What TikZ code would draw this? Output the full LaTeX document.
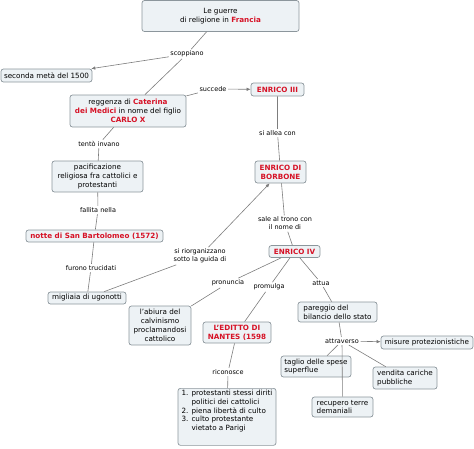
\documentclass[tikz,border=0pt]{standalone}
\usepackage{fontspec}
\setmainfont{DejaVu Sans}
\usetikzlibrary{arrows.meta}
\definecolor{boxfill}{RGB}{237,242,245}
\definecolor{boxline}{RGB}{140,150,156}
\definecolor{linkgray}{RGB}{125,125,125}
\definecolor{mapred}{RGB}{214,18,38}
\newcommand{\rosso}[1]{\textcolor{mapred}{\textbf{#1}}}
\tikzset{
  concept/.style={draw=boxline, fill=boxfill, rounded corners=2.5pt, line width=0.7pt,
    inner sep=1pt, font=\fontsize{7.2}{8.8}\selectfont, align=center},
  linkword/.style={inner sep=1.5pt, font=\fontsize{6.5}{8}\selectfont, align=center},
  conn/.style={draw=linkgray, line width=0.6pt},
  toarrow/.style={conn, -{Latex[length=4pt,width=3.5pt]}}
}
\begin{document}
\begin{tikzpicture}[x=1pt,y=-1pt]
    \useasboundingbox (0,0) rectangle (474,448);
    \node[concept, minimum width=157, minimum height=31] (tit) at (220.5,16)
      {Le guerre\\di religione in \rosso{Francia}};
    \node[linkword] (lsco) at ([shift={(-33.5,38)}]   tit)  {scoppiano};
    \node[concept, minimum width=91, minimum height=13] (sec) at ([shift={(-140.5,21.5)}] lsco) {seconda metà del 1500};
    \node[concept, minimum width=116, minimum height=32] (reg) at ([shift={(-59,57)}] lsco)
      {reggenza di \rosso{Caterina}\\\rosso{dei Medici} in nome del figlio\\\rosso{CARLO X}};
    \node[linkword] (lsuc) at ([shift={(85,-22)}]     reg)  {succede};
    \node[concept, minimum width=53, minimum height=13] (etre) at ([shift={(64.5,0.5)}] lsuc) {\rosso{ENRICO III}};
    \node[linkword] (lall) at ([shift={(0,43.5)}]     etre) {si allea con};
    \node[concept, minimum width=51, minimum height=22] (bor) at ([shift={(3,39)}] lall)
      {\rosso{ENRICO DI}\\\rosso{BORBONE}};
    \node[linkword] (lsal) at ([shift={(4.5,51.5)}]   bor)  {sale al trono con\\il nome di};
    \node[concept, minimum width=51, minimum height=12] (equ) at ([shift={(9.5,28)}] lsal) {\rosso{ENRICO IV}};
    \node[linkword] (lpro) at ([shift={(-66.5,31.5)}] equ)  {pronuncia};
    \node[linkword] (lprm) at ([shift={(-25.5,35.5)}] equ)  {promulga};
    \node[linkword] (latt) at ([shift={(26.5,31.5)}]  equ)  {attua};
    \node[concept, minimum width=62, minimum height=39] (abi) at ([shift={(-68,42.5)}] lpro)
      {l'abiura del\\calvinismo\\proclamandosi\\cattolico};
    \node[concept, minimum width=68, minimum height=21] (edi) at ([shift={(-32,45.5)}] lprm)
      {\rosso{L'EDITTO DI}\\\rosso{NANTES (1598}};
    \node[linkword] (lric) at ([shift={(-9,39.5)}]    edi)  {riconosce};
    \node[concept, anchor=north, minimum width=98, align=left] (lst) at ([shift={(-1,16)}] lric)
      {\begin{tabular}{@{}r@{ }l@{}}
        1. & protestanti stessi diriti\\
           & politici dei cattolici\\
        2. & piena libertà di culto\\
        3. & culto protestante\\
           & vietato a Parigi\\[11pt]
      \end{tabular}};
    \node[concept, minimum width=79, minimum height=20, align=left] (par) at ([shift={(16.5,29)}] latt)
      {pareggio del\\bilancio dello stato};
    \node[linkword] (ltra) at ([shift={(4.5,29)}]     par)  {attraverso};
    \node[concept, minimum width=92, minimum height=13] (mis) at ([shift={(85,1.5)}] ltra) {misure protezionistiche};
    \node[concept, minimum width=70, minimum height=21, align=left] (tag) at ([shift={(-26,25.5)}] ltra)
      {taglio delle spese\\superflue};
    \node[concept, minimum width=64, minimum height=22, align=left] (ven) at ([shift={(63,37)}] ltra)
      {vendita cariche\\pubbliche};
    \node[concept, minimum width=61, minimum height=20, align=left] (rec) at ([shift={(0.5,66)}] ltra)
      {recupero terre\\demaniali};
    \node[linkword] (lten) at ([shift={(-29,33)}]     reg)  {tentò invano};
    \node[concept, minimum width=91, minimum height=31] (pac) at ([shift={(-1.5,32.5)}] lten)
      {pacificazione\\religiosa fra cattolici e\\protestanti};
    \node[linkword] (lfal) at ([shift={(0.5,33.5)}]   pac)  {fallita nella};
    \node[concept, minimum width=137, minimum height=12] (not) at ([shift={(-3.5,26)}] lfal)
      {\rosso{notte di San Bartolomeo (1572)}};
    \node[linkword] (lfur) at ([shift={(-3.5,32)}]    not)  {furono trucidati};
    \node[concept, minimum width=78, minimum height=12] (mig) at ([shift={(-4,30)}] lfur) {migliaia di ugonotti};
    \node[linkword] (lrio) at ([shift={(113,-42)}]    mig)  {si riorganizzano\\sotto la guida di};
    % connettori
    \draw [conn] (tit) -- (lsco) -- (reg);
    \draw [toarrow] (lsco) -- (sec);
    \draw [conn] (reg) -- (lsuc);
    \draw [toarrow] (lsuc) -- (etre);
    \draw [conn] (etre) -- (lall) -- (bor);
    \draw [conn] (bor) -- (lsal) -- (equ);
    \draw [conn] (equ) -- (lpro) -- (abi);
    \draw [conn] (equ) -- (lprm) -- (edi);
    \draw [conn] (equ) -- (latt) -- (par);
    \draw [conn] (edi) -- (lric) -- (lst);
    \draw [conn] (par) -- (ltra);
    \draw [toarrow] (ltra) -- (mis);
    \draw [conn] (ltra) -- (tag);
    \draw [conn] (ltra) -- (ven);
    \draw [conn] (ltra) -- (rec);
    \draw [conn] (reg) -- (lten) -- (pac);
    \draw [conn] (pac) -- (lfal) -- (not);
    \draw [conn] (not) -- (lfur) -- (mig);
    \draw [conn] (mig) -- (lrio);
    \draw [toarrow] (lrio) -- (bor);
  \end{tikzpicture}
\end{document}
